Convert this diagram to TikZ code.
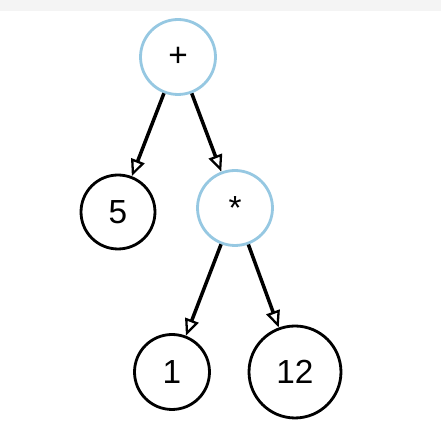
\documentclass[tikz,border=0pt]{standalone}
\usepackage{fontspec}
\setmainfont{Liberation Sans}
\usetikzlibrary{arrows.meta}
\definecolor{opnode}{HTML}{96C8E2}
\definecolor{band}{HTML}{F4F4F4}

\begin{document}
\begin{tikzpicture}[x=0.02cm,y=-0.02cm,
  leaf/.style={circle,draw=black,line width=1.6pt,inner sep=0pt,minimum size=1.5cm,font=\fontsize{19}{21}\selectfont},
  op/.style={leaf,draw=opnode},
  arr/.style={-{Triangle[open,length=9.5pt,width=8pt,line width=1.3pt]},line width=2pt}]
% page and top band
\fill[white] (0,0) rectangle (441,425);
\fill[band] (0,0) rectangle (441,11);
\node[op] (plus) at (178,57) {+};
\node[leaf,minimum size=1.48cm] (five) at (118,212) {5};
\node[op] (times) at (235,208) {*};
\node[leaf] (one) at (172,372) {1};
\node[leaf,minimum size=1.84cm] (twelve) at (295,372) {12};
\draw[arr] (plus)--(five); \draw[arr] (plus)--(times);
\draw[arr] (times)--(one); \draw[arr] (times)--(twelve);
\end{tikzpicture}
\end{document}
